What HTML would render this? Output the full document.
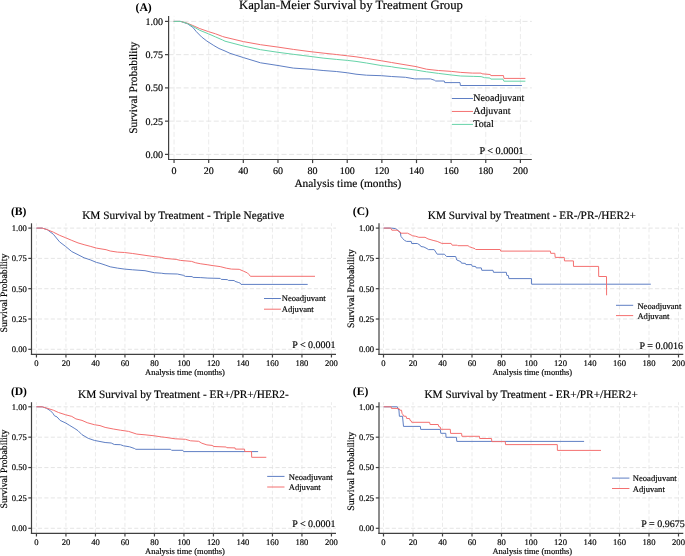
<!DOCTYPE html>
<html><head><meta charset="utf-8"><style>
html,body{margin:0;padding:0;background:#fff;}
svg{display:block;font-family:"Liberation Serif",serif;will-change:transform;text-rendering:geometricPrecision;}
text{stroke:#111;stroke-width:0.18px;}
</style></head><body>
<svg width="685" height="556" viewBox="0 0 685 556">
<rect width="685" height="556" fill="#fff"/>
<g stroke="#e6e6e6" stroke-width="0.8" stroke-dasharray="5 2.53"><line x1="174.05" y1="159.50" x2="174.05" y2="15.90"/><line x1="208.69" y1="159.50" x2="208.69" y2="15.90"/><line x1="243.32" y1="159.50" x2="243.32" y2="15.90"/><line x1="277.96" y1="159.50" x2="277.96" y2="15.90"/><line x1="312.59" y1="159.50" x2="312.59" y2="15.90"/><line x1="347.23" y1="159.50" x2="347.23" y2="15.90"/><line x1="381.86" y1="159.50" x2="381.86" y2="15.90"/><line x1="416.50" y1="159.50" x2="416.50" y2="15.90"/><line x1="451.13" y1="159.50" x2="451.13" y2="15.90"/><line x1="485.76" y1="159.50" x2="485.76" y2="15.90"/><line x1="520.40" y1="159.50" x2="520.40" y2="15.90"/></g>
<g stroke="#dedede" stroke-width="0.8" stroke-dasharray="5 2.53"><line x1="168.60" y1="154.40" x2="531.80" y2="154.40"/><line x1="168.60" y1="121.15" x2="531.80" y2="121.15"/><line x1="168.60" y1="87.90" x2="531.80" y2="87.90"/><line x1="168.60" y1="54.65" x2="531.80" y2="54.65"/><line x1="168.60" y1="21.40" x2="531.80" y2="21.40"/></g>
<g stroke="#404040" stroke-width="1.2"><line x1="168.60" y1="15.90" x2="168.60" y2="160.10"/><line x1="168.00" y1="159.50" x2="531.80" y2="159.50"/><line x1="174.05" y1="159.50" x2="174.05" y2="163.10"/><line x1="208.69" y1="159.50" x2="208.69" y2="163.10"/><line x1="243.32" y1="159.50" x2="243.32" y2="163.10"/><line x1="277.96" y1="159.50" x2="277.96" y2="163.10"/><line x1="312.59" y1="159.50" x2="312.59" y2="163.10"/><line x1="347.23" y1="159.50" x2="347.23" y2="163.10"/><line x1="381.86" y1="159.50" x2="381.86" y2="163.10"/><line x1="416.50" y1="159.50" x2="416.50" y2="163.10"/><line x1="451.13" y1="159.50" x2="451.13" y2="163.10"/><line x1="485.76" y1="159.50" x2="485.76" y2="163.10"/><line x1="520.40" y1="159.50" x2="520.40" y2="163.10"/><line x1="165.00" y1="154.40" x2="168.60" y2="154.40"/><line x1="165.00" y1="121.15" x2="168.60" y2="121.15"/><line x1="165.00" y1="87.90" x2="168.60" y2="87.90"/><line x1="165.00" y1="54.65" x2="168.60" y2="54.65"/><line x1="165.00" y1="21.40" x2="168.60" y2="21.40"/></g>
<g font-size="10" fill="#000"><text x="174.05" y="174.00" text-anchor="middle">0</text><text x="208.69" y="174.00" text-anchor="middle">20</text><text x="243.32" y="174.00" text-anchor="middle">40</text><text x="277.96" y="174.00" text-anchor="middle">60</text><text x="312.59" y="174.00" text-anchor="middle">80</text><text x="347.23" y="174.00" text-anchor="middle">100</text><text x="381.86" y="174.00" text-anchor="middle">120</text><text x="416.50" y="174.00" text-anchor="middle">140</text><text x="451.13" y="174.00" text-anchor="middle">160</text><text x="485.76" y="174.00" text-anchor="middle">180</text><text x="520.40" y="174.00" text-anchor="middle">200</text><text x="163.00" y="157.80" text-anchor="end">0.00</text><text x="163.00" y="124.55" text-anchor="end">0.25</text><text x="163.00" y="91.30" text-anchor="end">0.50</text><text x="163.00" y="58.05" text-anchor="end">0.75</text><text x="163.00" y="24.80" text-anchor="end">1.00</text></g>
<polyline fill="none" stroke="#5f7fc4" stroke-width="1.0" stroke-linejoin="round" points="173.70,21.40 180.00,21.40 181.40,21.60 187.50,23.80 192.80,27.30 196.30,31.60 201.50,36.90 206.80,41.00 213.80,45.50 219.00,48.50 225.00,51.00 230.00,53.30 243.40,57.60 260.50,62.80 278.00,65.50 293.30,68.10 310.00,69.20 323.10,70.50 336.30,71.50 347.40,72.80 356.00,74.20 366.50,75.20 381.60,75.70 391.50,76.50 405.50,77.30 414.70,78.90 430.50,78.90 434.40,80.20 435.70,81.00 444.30,81.00 444.70,82.60 460.00,82.60 460.40,85.50 521.90,85.50"/>
<polyline fill="none" stroke="#f47070" stroke-width="1.0" stroke-linejoin="round" points="173.70,21.40 180.00,21.40 181.40,21.60 187.50,23.30 192.80,25.50 199.80,28.60 208.40,31.60 215.50,33.80 222.60,36.50 225.00,37.20 243.40,41.60 260.50,44.70 278.00,47.10 293.30,49.40 310.00,51.60 323.10,53.10 336.30,54.50 347.40,55.80 356.00,56.80 366.50,58.40 381.60,60.80 391.50,62.50 416.00,66.60 426.50,69.20 438.40,70.50 451.50,71.40 460.70,72.40 472.50,73.10 481.10,73.10 482.00,73.80 490.30,74.50 490.80,75.60 503.50,75.60 503.90,78.40 525.40,78.40"/>
<polyline fill="none" stroke="#66d3a8" stroke-width="1.0" stroke-linejoin="round" points="173.70,21.40 180.00,21.40 181.40,21.60 187.50,23.50 192.80,26.40 199.80,30.30 208.40,33.80 215.50,36.90 222.60,40.00 225.00,41.20 243.40,46.00 260.50,49.70 278.00,52.30 293.30,54.30 310.00,56.40 323.10,58.10 336.30,59.40 347.40,60.40 356.00,61.40 366.50,63.00 381.60,65.60 391.50,66.70 395.00,67.40 416.00,70.10 426.50,71.80 438.40,73.40 451.50,75.00 460.70,76.00 473.80,76.40 481.10,76.60 484.60,77.70 489.90,78.00 490.80,79.10 503.00,79.10 503.90,81.20 525.40,81.20"/>
<text x="239.00" y="8.80" font-size="12.72" fill="#000">Kaplan-Meier Survival by Treatment Group</text>
<text x="135.50" y="10.90" font-size="11.7" font-weight="bold" fill="#000" style="stroke-width:0">(A)</text>
<text x="294.40" y="186.80" font-size="11.4" fill="#000">Analysis time (months)</text>
<text transform="translate(137.00,87.80) rotate(-90)" text-anchor="middle" font-size="11.4" fill="#000">Survival Probability</text>
<text x="523.60" y="154.10" text-anchor="end" font-size="10.2" fill="#000">P &lt; 0.0001</text>
<line x1="451.90" y1="98.50" x2="473.00" y2="98.50" stroke="#5f7fc4" stroke-width="1.0"/>
<text x="473.30" y="101.30" font-size="10" fill="#000">Neoadjuvant</text>
<line x1="451.90" y1="111.45" x2="473.00" y2="111.45" stroke="#f47070" stroke-width="1.0"/>
<text x="473.30" y="114.25" font-size="10" fill="#000">Adjuvant</text>
<line x1="451.90" y1="124.40" x2="473.00" y2="124.40" stroke="#66d3a8" stroke-width="1.0"/>
<text x="473.30" y="127.20" font-size="10" fill="#000">Total</text>
<g stroke="#e6e6e6" stroke-width="0.8" stroke-dasharray="4.1 2.32"><line x1="36.45" y1="354.30" x2="36.45" y2="223.30"/><line x1="65.95" y1="354.30" x2="65.95" y2="223.30"/><line x1="95.45" y1="354.30" x2="95.45" y2="223.30"/><line x1="124.95" y1="354.30" x2="124.95" y2="223.30"/><line x1="154.45" y1="354.30" x2="154.45" y2="223.30"/><line x1="183.95" y1="354.30" x2="183.95" y2="223.30"/><line x1="213.45" y1="354.30" x2="213.45" y2="223.30"/><line x1="242.95" y1="354.30" x2="242.95" y2="223.30"/><line x1="272.45" y1="354.30" x2="272.45" y2="223.30"/><line x1="301.95" y1="354.30" x2="301.95" y2="223.30"/><line x1="331.45" y1="354.30" x2="331.45" y2="223.30"/></g>
<g stroke="#dedede" stroke-width="0.8" stroke-dasharray="4.1 2.32"><line x1="31.50" y1="349.30" x2="336.00" y2="349.30"/><line x1="31.50" y1="319.00" x2="336.00" y2="319.00"/><line x1="31.50" y1="288.70" x2="336.00" y2="288.70"/><line x1="31.50" y1="258.40" x2="336.00" y2="258.40"/><line x1="31.50" y1="228.10" x2="336.00" y2="228.10"/></g>
<g stroke="#404040" stroke-width="1.2"><line x1="31.50" y1="223.30" x2="31.50" y2="354.90"/><line x1="30.90" y1="354.30" x2="336.00" y2="354.30"/><line x1="36.45" y1="354.30" x2="36.45" y2="357.50"/><line x1="65.95" y1="354.30" x2="65.95" y2="357.50"/><line x1="95.45" y1="354.30" x2="95.45" y2="357.50"/><line x1="124.95" y1="354.30" x2="124.95" y2="357.50"/><line x1="154.45" y1="354.30" x2="154.45" y2="357.50"/><line x1="183.95" y1="354.30" x2="183.95" y2="357.50"/><line x1="213.45" y1="354.30" x2="213.45" y2="357.50"/><line x1="242.95" y1="354.30" x2="242.95" y2="357.50"/><line x1="272.45" y1="354.30" x2="272.45" y2="357.50"/><line x1="301.95" y1="354.30" x2="301.95" y2="357.50"/><line x1="331.45" y1="354.30" x2="331.45" y2="357.50"/><line x1="28.30" y1="349.30" x2="31.50" y2="349.30"/><line x1="28.30" y1="319.00" x2="31.50" y2="319.00"/><line x1="28.30" y1="288.70" x2="31.50" y2="288.70"/><line x1="28.30" y1="258.40" x2="31.50" y2="258.40"/><line x1="28.30" y1="228.10" x2="31.50" y2="228.10"/></g>
<g font-size="8.6" fill="#000"><text x="36.45" y="366.10" text-anchor="middle">0</text><text x="65.95" y="366.10" text-anchor="middle">20</text><text x="95.45" y="366.10" text-anchor="middle">40</text><text x="124.95" y="366.10" text-anchor="middle">60</text><text x="154.45" y="366.10" text-anchor="middle">80</text><text x="183.95" y="366.10" text-anchor="middle">100</text><text x="213.45" y="366.10" text-anchor="middle">120</text><text x="242.95" y="366.10" text-anchor="middle">140</text><text x="272.45" y="366.10" text-anchor="middle">160</text><text x="301.95" y="366.10" text-anchor="middle">180</text><text x="331.45" y="366.10" text-anchor="middle">200</text><text x="26.80" y="352.20" text-anchor="end">0.00</text><text x="26.80" y="321.90" text-anchor="end">0.25</text><text x="26.80" y="291.60" text-anchor="end">0.50</text><text x="26.80" y="261.30" text-anchor="end">0.75</text><text x="26.80" y="231.00" text-anchor="end">1.00</text></g>
<polyline fill="none" stroke="#5f7fc4" stroke-width="1.0" stroke-linejoin="round" points="36.40,228.10 42.20,228.10 47.30,229.70 53.40,234.30 59.60,241.90 65.70,246.50 71.80,251.60 78.00,254.70 84.10,257.80 90.20,259.80 96.40,262.40 100.00,263.30 105.10,265.00 110.20,266.80 117.40,268.10 124.50,269.10 132.70,269.80 145.00,270.70 154.20,272.70 161.30,273.20 165.00,273.70 177.30,274.00 183.40,275.30 185.40,276.40 192.10,276.60 193.10,277.40 200.80,277.60 207.90,278.10 220.20,278.40 221.20,279.40 227.30,279.60 228.40,280.40 234.10,280.50 235.10,281.40 238.20,282.40 240.20,283.10 241.00,284.40 307.70,284.40"/>
<polyline fill="none" stroke="#f47070" stroke-width="1.0" stroke-linejoin="round" points="36.40,228.10 42.20,228.10 47.30,229.70 53.40,232.20 59.60,235.30 65.70,237.80 71.80,240.40 78.00,242.90 84.10,244.70 90.20,246.30 96.40,248.10 100.00,248.70 106.10,249.70 110.20,251.00 117.40,252.10 124.50,252.50 132.70,253.50 145.00,255.30 154.20,256.60 161.30,257.40 165.00,258.40 176.20,259.40 180.30,260.40 191.60,261.40 195.70,262.80 200.80,263.80 207.90,264.80 212.00,265.50 220.20,266.60 226.30,268.20 231.50,269.10 239.20,269.30 243.30,271.10 247.40,272.90 248.90,274.40 250.40,276.30 315.00,276.30"/>
<text x="82.20" y="218.60" font-size="11.3" fill="#000">KM Survival by Treatment - Triple Negative</text>
<text x="10.90" y="214.65" font-size="11.6" font-weight="bold" fill="#000" style="stroke-width:0">(B)</text>
<text x="145.10" y="375.10" font-size="8.5" fill="#000">Analysis time (months)</text>
<text transform="translate(6.80,293.00) rotate(-90)" text-anchor="middle" font-size="9.75" fill="#000">Survival Probability</text>
<text x="335.60" y="348.20" text-anchor="end" font-size="10" fill="#000">P &lt; 0.0001</text>
<line x1="264.00" y1="298.50" x2="280.90" y2="298.50" stroke="#5f7fc4" stroke-width="1.0"/>
<text x="281.70" y="301.40" font-size="8.6" fill="#000">Neoadjuvant</text>
<line x1="264.00" y1="309.20" x2="280.90" y2="309.20" stroke="#f47070" stroke-width="1.0"/>
<text x="281.70" y="312.10" font-size="8.6" fill="#000">Adjuvant</text>
<g stroke="#e6e6e6" stroke-width="0.8" stroke-dasharray="4.1 2.32"><line x1="383.50" y1="354.30" x2="383.50" y2="223.30"/><line x1="413.00" y1="354.30" x2="413.00" y2="223.30"/><line x1="442.50" y1="354.30" x2="442.50" y2="223.30"/><line x1="472.00" y1="354.30" x2="472.00" y2="223.30"/><line x1="501.50" y1="354.30" x2="501.50" y2="223.30"/><line x1="531.00" y1="354.30" x2="531.00" y2="223.30"/><line x1="560.50" y1="354.30" x2="560.50" y2="223.30"/><line x1="590.00" y1="354.30" x2="590.00" y2="223.30"/><line x1="619.50" y1="354.30" x2="619.50" y2="223.30"/><line x1="649.00" y1="354.30" x2="649.00" y2="223.30"/><line x1="678.50" y1="354.30" x2="678.50" y2="223.30"/></g>
<g stroke="#dedede" stroke-width="0.8" stroke-dasharray="4.1 2.32"><line x1="379.00" y1="349.30" x2="683.30" y2="349.30"/><line x1="379.00" y1="319.00" x2="683.30" y2="319.00"/><line x1="379.00" y1="288.70" x2="683.30" y2="288.70"/><line x1="379.00" y1="258.40" x2="683.30" y2="258.40"/><line x1="379.00" y1="228.10" x2="683.30" y2="228.10"/></g>
<g stroke="#404040" stroke-width="1.2"><line x1="379.00" y1="223.30" x2="379.00" y2="354.90"/><line x1="378.40" y1="354.30" x2="683.30" y2="354.30"/><line x1="383.50" y1="354.30" x2="383.50" y2="357.50"/><line x1="413.00" y1="354.30" x2="413.00" y2="357.50"/><line x1="442.50" y1="354.30" x2="442.50" y2="357.50"/><line x1="472.00" y1="354.30" x2="472.00" y2="357.50"/><line x1="501.50" y1="354.30" x2="501.50" y2="357.50"/><line x1="531.00" y1="354.30" x2="531.00" y2="357.50"/><line x1="560.50" y1="354.30" x2="560.50" y2="357.50"/><line x1="590.00" y1="354.30" x2="590.00" y2="357.50"/><line x1="619.50" y1="354.30" x2="619.50" y2="357.50"/><line x1="649.00" y1="354.30" x2="649.00" y2="357.50"/><line x1="678.50" y1="354.30" x2="678.50" y2="357.50"/><line x1="375.80" y1="349.30" x2="379.00" y2="349.30"/><line x1="375.80" y1="319.00" x2="379.00" y2="319.00"/><line x1="375.80" y1="288.70" x2="379.00" y2="288.70"/><line x1="375.80" y1="258.40" x2="379.00" y2="258.40"/><line x1="375.80" y1="228.10" x2="379.00" y2="228.10"/></g>
<g font-size="8.6" fill="#000"><text x="383.50" y="366.10" text-anchor="middle">0</text><text x="413.00" y="366.10" text-anchor="middle">20</text><text x="442.50" y="366.10" text-anchor="middle">40</text><text x="472.00" y="366.10" text-anchor="middle">60</text><text x="501.50" y="366.10" text-anchor="middle">80</text><text x="531.00" y="366.10" text-anchor="middle">100</text><text x="560.50" y="366.10" text-anchor="middle">120</text><text x="590.00" y="366.10" text-anchor="middle">140</text><text x="619.50" y="366.10" text-anchor="middle">160</text><text x="649.00" y="366.10" text-anchor="middle">180</text><text x="678.50" y="366.10" text-anchor="middle">200</text><text x="374.10" y="352.20" text-anchor="end">0.00</text><text x="374.10" y="321.90" text-anchor="end">0.25</text><text x="374.10" y="291.60" text-anchor="end">0.50</text><text x="374.10" y="261.30" text-anchor="end">0.75</text><text x="374.10" y="231.00" text-anchor="end">1.00</text></g>
<polyline fill="none" stroke="#5f7fc4" stroke-width="1.0" stroke-linejoin="round" points="383.60,228.10 391.20,228.10 395.30,228.60 397.40,229.70 398.90,231.70 400.40,232.70 400.90,236.30 402.50,238.30 404.50,240.40 406.60,241.40 411.20,241.40 411.70,243.50 417.30,243.50 419.90,245.00 420.90,246.50 423.90,247.00 427.00,248.60 428.50,249.60 434.20,249.60 437.20,254.20 444.40,254.20 446.50,256.50 455.70,256.50 456.80,260.00 460.80,261.60 461.40,263.10 465.40,263.40 465.90,264.60 471.60,264.60 472.10,266.20 475.70,266.50 476.20,267.90 481.30,267.90 481.80,270.30 493.00,270.30 493.50,272.30 506.30,272.30 506.80,275.40 508.40,275.60 508.90,278.60 531.50,278.60 531.60,284.20 650.80,284.20"/>
<polyline fill="none" stroke="#f47070" stroke-width="1.0" stroke-linejoin="round" points="383.60,228.10 390.70,228.10 391.80,230.20 396.90,230.20 399.90,231.70 400.90,233.20 407.60,233.20 412.70,235.80 415.80,236.30 418.80,237.30 425.00,237.30 428.00,238.90 433.10,240.40 437.20,241.40 441.80,243.40 451.10,243.40 452.20,245.20 457.30,245.20 457.80,245.70 468.00,245.70 469.50,246.80 472.60,247.80 475.10,248.80 475.70,249.50 500.20,249.50 500.70,251.10 550.40,251.10 550.70,253.30 554.80,253.30 555.20,257.40 564.20,257.40 564.50,260.90 573.40,260.90 573.50,266.40 598.60,266.40 598.70,276.50 606.50,276.50 606.60,295.30"/>
<text x="427.80" y="218.70" font-size="11.3" fill="#000">KM Survival by Treatment - ER-/PR-/HER2+</text>
<text x="352.80" y="214.90" font-size="11.6" font-weight="bold" fill="#000" style="stroke-width:0">(C)</text>
<text x="492.40" y="375.10" font-size="8.5" fill="#000">Analysis time (months)</text>
<text transform="translate(353.80,288.50) rotate(-90)" text-anchor="middle" font-size="9.75" fill="#000">Survival Probability</text>
<text x="682.90" y="348.90" text-anchor="end" font-size="10" fill="#000">P = 0.0016</text>
<line x1="616.00" y1="305.30" x2="633.20" y2="305.30" stroke="#5f7fc4" stroke-width="1.0"/>
<text x="637.40" y="308.50" font-size="8.6" fill="#000">Neoadjuvant</text>
<line x1="616.00" y1="315.60" x2="633.20" y2="315.60" stroke="#f47070" stroke-width="1.0"/>
<text x="637.40" y="318.80" font-size="8.6" fill="#000">Adjuvant</text>
<g stroke="#e6e6e6" stroke-width="0.8" stroke-dasharray="4.1 2.32"><line x1="36.45" y1="533.30" x2="36.45" y2="402.20"/><line x1="65.95" y1="533.30" x2="65.95" y2="402.20"/><line x1="95.45" y1="533.30" x2="95.45" y2="402.20"/><line x1="124.95" y1="533.30" x2="124.95" y2="402.20"/><line x1="154.45" y1="533.30" x2="154.45" y2="402.20"/><line x1="183.95" y1="533.30" x2="183.95" y2="402.20"/><line x1="213.45" y1="533.30" x2="213.45" y2="402.20"/><line x1="242.95" y1="533.30" x2="242.95" y2="402.20"/><line x1="272.45" y1="533.30" x2="272.45" y2="402.20"/><line x1="301.95" y1="533.30" x2="301.95" y2="402.20"/><line x1="331.45" y1="533.30" x2="331.45" y2="402.20"/></g>
<g stroke="#dedede" stroke-width="0.8" stroke-dasharray="4.1 2.32"><line x1="31.50" y1="528.30" x2="336.00" y2="528.30"/><line x1="31.50" y1="497.92" x2="336.00" y2="497.92"/><line x1="31.50" y1="467.55" x2="336.00" y2="467.55"/><line x1="31.50" y1="437.18" x2="336.00" y2="437.18"/><line x1="31.50" y1="406.80" x2="336.00" y2="406.80"/></g>
<g stroke="#404040" stroke-width="1.2"><line x1="31.50" y1="402.20" x2="31.50" y2="533.90"/><line x1="30.90" y1="533.30" x2="336.00" y2="533.30"/><line x1="36.45" y1="533.30" x2="36.45" y2="536.50"/><line x1="65.95" y1="533.30" x2="65.95" y2="536.50"/><line x1="95.45" y1="533.30" x2="95.45" y2="536.50"/><line x1="124.95" y1="533.30" x2="124.95" y2="536.50"/><line x1="154.45" y1="533.30" x2="154.45" y2="536.50"/><line x1="183.95" y1="533.30" x2="183.95" y2="536.50"/><line x1="213.45" y1="533.30" x2="213.45" y2="536.50"/><line x1="242.95" y1="533.30" x2="242.95" y2="536.50"/><line x1="272.45" y1="533.30" x2="272.45" y2="536.50"/><line x1="301.95" y1="533.30" x2="301.95" y2="536.50"/><line x1="331.45" y1="533.30" x2="331.45" y2="536.50"/><line x1="28.30" y1="528.30" x2="31.50" y2="528.30"/><line x1="28.30" y1="497.92" x2="31.50" y2="497.92"/><line x1="28.30" y1="467.55" x2="31.50" y2="467.55"/><line x1="28.30" y1="437.18" x2="31.50" y2="437.18"/><line x1="28.30" y1="406.80" x2="31.50" y2="406.80"/></g>
<g font-size="8.6" fill="#000"><text x="36.45" y="545.10" text-anchor="middle">0</text><text x="65.95" y="545.10" text-anchor="middle">20</text><text x="95.45" y="545.10" text-anchor="middle">40</text><text x="124.95" y="545.10" text-anchor="middle">60</text><text x="154.45" y="545.10" text-anchor="middle">80</text><text x="183.95" y="545.10" text-anchor="middle">100</text><text x="213.45" y="545.10" text-anchor="middle">120</text><text x="242.95" y="545.10" text-anchor="middle">140</text><text x="272.45" y="545.10" text-anchor="middle">160</text><text x="301.95" y="545.10" text-anchor="middle">180</text><text x="331.45" y="545.10" text-anchor="middle">200</text><text x="26.80" y="531.20" text-anchor="end">0.00</text><text x="26.80" y="500.82" text-anchor="end">0.25</text><text x="26.80" y="470.45" text-anchor="end">0.50</text><text x="26.80" y="440.07" text-anchor="end">0.75</text><text x="26.80" y="409.70" text-anchor="end">1.00</text></g>
<polyline fill="none" stroke="#5f7fc4" stroke-width="1.0" stroke-linejoin="round" points="36.40,406.80 42.20,406.80 46.30,408.20 50.40,410.70 52.90,413.30 54.50,415.80 57.00,416.90 60.10,420.40 65.70,423.00 69.80,425.50 74.90,428.60 78.00,430.70 82.00,434.70 88.20,438.30 94.30,440.40 100.00,441.50 105.10,442.50 111.20,443.00 114.30,444.50 120.40,444.70 123.50,445.80 129.60,446.80 134.70,448.60 135.80,449.30 170.60,449.30 171.60,450.30 182.90,450.30 183.60,451.60 258.10,451.60"/>
<polyline fill="none" stroke="#f47070" stroke-width="1.0" stroke-linejoin="round" points="36.40,406.80 42.20,406.80 46.30,408.00 53.40,410.20 58.50,412.50 65.70,414.80 71.80,416.40 75.90,418.90 82.00,420.40 87.20,422.70 94.30,424.70 100.00,425.60 105.10,427.40 113.30,429.00 120.40,430.20 128.60,431.40 136.80,434.10 145.00,434.80 154.20,435.80 161.30,436.90 165.00,437.30 175.20,438.80 185.40,439.30 190.50,440.80 198.70,441.30 201.80,443.20 206.90,444.90 212.00,445.40 214.00,446.50 226.30,447.00 226.80,447.70 235.10,447.90 235.30,449.10 244.50,449.10 244.80,451.50 251.50,451.50 251.70,457.30 266.30,457.30"/>
<text x="78.00" y="397.60" font-size="11.3" fill="#000">KM Survival by Treatment - ER+/PR+/HER2-</text>
<text x="10.90" y="395.30" font-size="11.6" font-weight="bold" fill="#000" style="stroke-width:0">(D)</text>
<text x="145.10" y="554.00" font-size="8.5" fill="#000">Analysis time (months)</text>
<text transform="translate(6.80,469.00) rotate(-90)" text-anchor="middle" font-size="9.75" fill="#000">Survival Probability</text>
<text x="335.60" y="527.10" text-anchor="end" font-size="10" fill="#000">P &lt; 0.0001</text>
<line x1="267.20" y1="476.40" x2="284.50" y2="476.40" stroke="#5f7fc4" stroke-width="1.0"/>
<text x="288.70" y="479.70" font-size="8.6" fill="#000">Neoadjuvant</text>
<line x1="267.20" y1="487.00" x2="284.50" y2="487.00" stroke="#f47070" stroke-width="1.0"/>
<text x="288.70" y="490.30" font-size="8.6" fill="#000">Adjuvant</text>
<g stroke="#e6e6e6" stroke-width="0.8" stroke-dasharray="4.1 2.32"><line x1="383.50" y1="533.30" x2="383.50" y2="402.20"/><line x1="413.00" y1="533.30" x2="413.00" y2="402.20"/><line x1="442.50" y1="533.30" x2="442.50" y2="402.20"/><line x1="472.00" y1="533.30" x2="472.00" y2="402.20"/><line x1="501.50" y1="533.30" x2="501.50" y2="402.20"/><line x1="531.00" y1="533.30" x2="531.00" y2="402.20"/><line x1="560.50" y1="533.30" x2="560.50" y2="402.20"/><line x1="590.00" y1="533.30" x2="590.00" y2="402.20"/><line x1="619.50" y1="533.30" x2="619.50" y2="402.20"/><line x1="649.00" y1="533.30" x2="649.00" y2="402.20"/><line x1="678.50" y1="533.30" x2="678.50" y2="402.20"/></g>
<g stroke="#dedede" stroke-width="0.8" stroke-dasharray="4.1 2.32"><line x1="379.00" y1="528.30" x2="683.30" y2="528.30"/><line x1="379.00" y1="497.92" x2="683.30" y2="497.92"/><line x1="379.00" y1="467.55" x2="683.30" y2="467.55"/><line x1="379.00" y1="437.18" x2="683.30" y2="437.18"/><line x1="379.00" y1="406.80" x2="683.30" y2="406.80"/></g>
<g stroke="#404040" stroke-width="1.2"><line x1="379.00" y1="402.20" x2="379.00" y2="533.90"/><line x1="378.40" y1="533.30" x2="683.30" y2="533.30"/><line x1="383.50" y1="533.30" x2="383.50" y2="536.50"/><line x1="413.00" y1="533.30" x2="413.00" y2="536.50"/><line x1="442.50" y1="533.30" x2="442.50" y2="536.50"/><line x1="472.00" y1="533.30" x2="472.00" y2="536.50"/><line x1="501.50" y1="533.30" x2="501.50" y2="536.50"/><line x1="531.00" y1="533.30" x2="531.00" y2="536.50"/><line x1="560.50" y1="533.30" x2="560.50" y2="536.50"/><line x1="590.00" y1="533.30" x2="590.00" y2="536.50"/><line x1="619.50" y1="533.30" x2="619.50" y2="536.50"/><line x1="649.00" y1="533.30" x2="649.00" y2="536.50"/><line x1="678.50" y1="533.30" x2="678.50" y2="536.50"/><line x1="375.80" y1="528.30" x2="379.00" y2="528.30"/><line x1="375.80" y1="497.92" x2="379.00" y2="497.92"/><line x1="375.80" y1="467.55" x2="379.00" y2="467.55"/><line x1="375.80" y1="437.18" x2="379.00" y2="437.18"/><line x1="375.80" y1="406.80" x2="379.00" y2="406.80"/></g>
<g font-size="8.6" fill="#000"><text x="383.50" y="545.10" text-anchor="middle">0</text><text x="413.00" y="545.10" text-anchor="middle">20</text><text x="442.50" y="545.10" text-anchor="middle">40</text><text x="472.00" y="545.10" text-anchor="middle">60</text><text x="501.50" y="545.10" text-anchor="middle">80</text><text x="531.00" y="545.10" text-anchor="middle">100</text><text x="560.50" y="545.10" text-anchor="middle">120</text><text x="590.00" y="545.10" text-anchor="middle">140</text><text x="619.50" y="545.10" text-anchor="middle">160</text><text x="649.00" y="545.10" text-anchor="middle">180</text><text x="678.50" y="545.10" text-anchor="middle">200</text><text x="374.10" y="531.20" text-anchor="end">0.00</text><text x="374.10" y="500.82" text-anchor="end">0.25</text><text x="374.10" y="470.45" text-anchor="end">0.50</text><text x="374.10" y="440.07" text-anchor="end">0.75</text><text x="374.10" y="409.70" text-anchor="end">1.00</text></g>
<polyline fill="none" stroke="#5f7fc4" stroke-width="1.0" stroke-linejoin="round" points="383.60,406.80 397.40,406.80 397.90,409.20 398.90,409.70 399.40,416.30 402.50,416.30 403.50,426.40 420.40,426.40 420.70,429.40 440.30,429.40 440.80,433.30 445.80,433.30 446.00,437.30 456.40,437.30 456.80,441.40 584.10,441.40"/>
<polyline fill="none" stroke="#f47070" stroke-width="1.0" stroke-linejoin="round" points="383.60,406.80 391.20,406.80 391.40,408.40 398.90,408.40 399.90,410.20 401.50,410.20 402.00,413.30 403.00,414.80 403.50,416.10 406.10,416.30 406.60,418.40 409.60,418.60 410.10,420.40 411.20,420.90 411.70,422.30 429.60,422.30 430.10,424.50 438.20,424.50 438.80,426.60 440.30,427.10 440.80,429.30 450.30,429.30 450.60,433.40 461.60,433.40 461.90,436.30 479.50,436.30 479.70,438.50 491.50,438.50 491.80,441.60 505.30,441.60 505.50,444.60 557.30,444.60 557.40,450.40 601.00,450.40"/>
<text x="424.40" y="397.60" font-size="11.3" fill="#000">KM Survival by Treatment - ER+/PR+/HER2+</text>
<text x="352.80" y="395.30" font-size="11.6" font-weight="bold" fill="#000" style="stroke-width:0">(E)</text>
<text x="492.40" y="554.00" font-size="8.5" fill="#000">Analysis time (months)</text>
<text transform="translate(353.80,471.30) rotate(-90)" text-anchor="middle" font-size="9.75" fill="#000">Survival Probability</text>
<text x="684.70" y="526.90" text-anchor="end" font-size="10" fill="#000">P = 0.9675</text>
<line x1="612.00" y1="478.10" x2="629.40" y2="478.10" stroke="#5f7fc4" stroke-width="1.0"/>
<text x="632.80" y="481.40" font-size="8.6" fill="#000">Neoadjuvant</text>
<line x1="612.00" y1="488.50" x2="629.40" y2="488.50" stroke="#f47070" stroke-width="1.0"/>
<text x="632.80" y="491.80" font-size="8.6" fill="#000">Adjuvant</text>
</svg>
</body></html>
